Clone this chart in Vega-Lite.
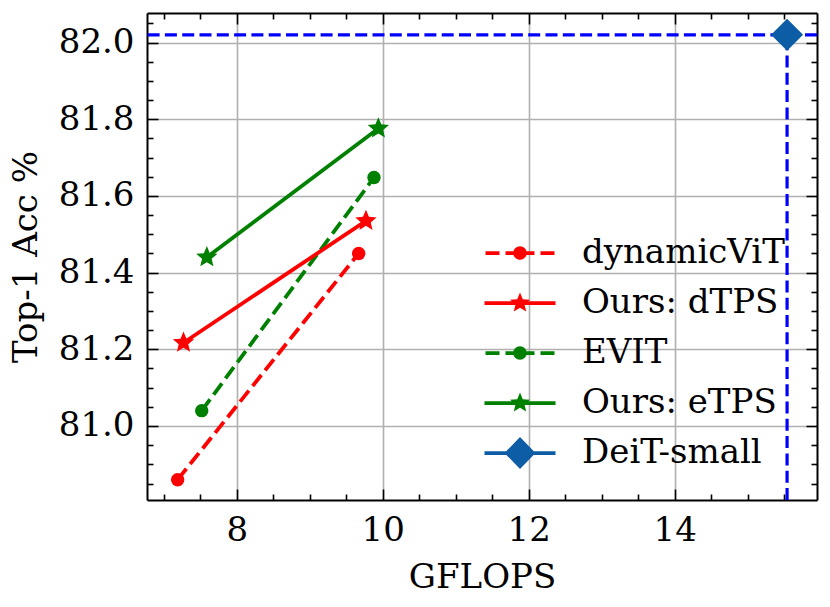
{
  "$schema": "https://vega.github.io/schema/vega-lite/v6.json",
  "width": 670,
  "height": 487,
  "autosize": {"type": "none"},
  "padding": {"left": 147, "top": 13, "right": 13, "bottom": 107},
  "background": "white",
  "config": {
    "font": "DejaVu Serif",
    "view": {"stroke": null},
    "axis": {
      "labelFont": "DejaVu Serif",
      "titleFont": "DejaVu Serif",
      "labelFontSize": 34,
      "titleFontSize": 34,
      "labelColor": "black",
      "titleColor": "black",
      "titleFontWeight": "normal",
      "domainColor": "black",
      "domainWidth": 2,
      "tickColor": "black",
      "tickWidth": 1.6,
      "gridColor": "#b0b0b0",
      "gridWidth": 1.6,
      "gridOpacity": 1
    }
  },
  "datasets": {
    "main": [
      {"series": "dynamicViT", "gflops": 7.19, "acc": 80.86},
      {"series": "dynamicViT", "gflops": 9.67, "acc": 81.45},
      {"series": "Ours: dTPS", "gflops": 7.27, "acc": 81.217},
      {"series": "Ours: dTPS", "gflops": 9.77, "acc": 81.535},
      {"series": "EVIT", "gflops": 7.52, "acc": 81.04},
      {"series": "EVIT", "gflops": 9.88, "acc": 81.648},
      {"series": "Ours: eTPS", "gflops": 7.59, "acc": 81.44},
      {"series": "Ours: eTPS", "gflops": 9.94, "acc": 81.776},
      {"series": "DeiT-small", "gflops": 15.54, "acc": 82.02}
    ],
    "refs": [
      {"gflops": 15.54, "acc": 82.02, "acc_low": 80.807}
    ],
    "entries": [
      {"series": "dynamicViT"},
      {"series": "Ours: dTPS"},
      {"series": "EVIT"},
      {"series": "Ours: eTPS"},
      {"series": "DeiT-small"}
    ]
  },
  "layer": [
    {
      "data": {"name": "refs"},
      "mark": {"type": "rule", "color": "#0000ff", "strokeWidth": 3.2, "strokeDash": [12, 5.3]},
      "encoding": {
        "y": {"field": "acc", "type": "quantitative", "scale": {"domain": [80.807, 82.077], "nice": false, "zero": false}, "axis": null}
      }
    },
    {
      "data": {"name": "refs"},
      "mark": {"type": "rule", "color": "#0000ff", "strokeWidth": 3.2, "strokeDash": [12, 5.3]},
      "encoding": {
        "x": {"field": "gflops", "type": "quantitative", "scale": {"domain": [6.77, 15.95], "nice": false, "zero": false},
          "axis": {"orient": "bottom", "values": [8, 10, 12, 14], "format": "d", "title": "GFLOPS", "grid": true, "ticks": false, "tickSize": 0, "labelPadding": 13, "titlePadding": 13, "domain": true}},
        "y": {"field": "acc_low", "type": "quantitative", "scale": {"domain": [80.807, 82.077], "nice": false, "zero": false},
          "axis": {"orient": "left", "values": [81.0, 81.2, 81.4, 81.6, 81.8, 82.0], "format": ".1f", "title": "Top-1 Acc %", "grid": true, "ticks": false, "tickSize": 0, "labelPadding": 13, "titlePadding": 15, "domain": true}},
        "y2": {"field": "acc"}
      }
    },
    {
      "data": {"name": "main"},
      "transform": [{"filter": "datum.series === 'dynamicViT' || datum.series === 'EVIT'"}],
      "mark": {"type": "line", "strokeWidth": 3.8, "strokeDash": [14, 6]},
      "encoding": {
        "x": {"field": "gflops", "type": "quantitative", "scale": {"domain": [6.77, 15.95], "nice": false, "zero": false},
          "axis": {"orient": "bottom", "values": [8, 10, 12, 14], "labels": false, "grid": false, "domain": false, "title": null, "tickSize": -11}},
        "y": {"field": "acc", "type": "quantitative", "scale": {"domain": [80.807, 82.077], "nice": false, "zero": false},
          "axis": {"orient": "left", "values": [81.0, 81.2, 81.4, 81.6, 81.8, 82.0], "labels": false, "grid": false, "domain": false, "title": null, "tickSize": -11}},
        "color": {"field": "series", "type": "nominal",
          "scale": {"domain": ["dynamicViT", "Ours: dTPS", "EVIT", "Ours: eTPS", "DeiT-small"], "range": ["#ff0000", "#ff0000", "#008000", "#008000", "#0C5DA5"]},
          "legend": null}
      }
    },
    {
      "data": {"name": "main"},
      "transform": [{"filter": "datum.series === 'Ours: dTPS' || datum.series === 'Ours: eTPS'"}],
      "mark": {"type": "line", "strokeWidth": 3.8},
      "encoding": {
        "x": {"field": "gflops", "type": "quantitative", "scale": {"domain": [6.77, 15.95], "nice": false, "zero": false},
          "axis": {"orient": "bottom", "values": [7, 7.5, 8.5, 9, 9.5, 10.5, 11, 11.5, 12.5, 13, 13.5, 14.5, 15, 15.5], "labels": false, "grid": false, "domain": false, "title": null, "tickSize": -6}},
        "y": {"field": "acc", "type": "quantitative", "scale": {"domain": [80.807, 82.077], "nice": false, "zero": false},
          "axis": {"orient": "left", "values": [80.85, 80.9, 80.95, 81.05, 81.1, 81.15, 81.25, 81.3, 81.35, 81.45, 81.5, 81.55, 81.65, 81.7, 81.75, 81.85, 81.9, 81.95, 82.05], "labels": false, "grid": false, "domain": false, "title": null, "tickSize": -6}},
        "color": {"field": "series", "type": "nominal",
          "scale": {"domain": ["dynamicViT", "Ours: dTPS", "EVIT", "Ours: eTPS", "DeiT-small"], "range": ["#ff0000", "#ff0000", "#008000", "#008000", "#0C5DA5"]},
          "legend": null}
      }
    },
    {
      "data": {"name": "main"},
      "transform": [{"filter": "datum.series === 'dynamicViT' || datum.series === 'EVIT'"}],
      "mark": {"type": "point", "shape": "circle", "filled": true, "size": 180, "opacity": 1, "strokeWidth": 0},
      "encoding": {
        "x": {"field": "gflops", "type": "quantitative", "scale": {"domain": [6.77, 15.95], "nice": false, "zero": false},
          "axis": {"orient": "top", "values": [8, 10, 12, 14], "labels": false, "grid": false, "domain": true, "title": null, "tickSize": -11}},
        "y": {"field": "acc", "type": "quantitative", "scale": {"domain": [80.807, 82.077], "nice": false, "zero": false},
          "axis": {"orient": "right", "values": [81.0, 81.2, 81.4, 81.6, 81.8, 82.0], "labels": false, "grid": false, "domain": true, "title": null, "tickSize": -11}},
        "color": {"field": "series", "type": "nominal",
          "scale": {"domain": ["dynamicViT", "Ours: dTPS", "EVIT", "Ours: eTPS", "DeiT-small"], "range": ["#ff0000", "#ff0000", "#008000", "#008000", "#0C5DA5"]},
          "legend": null}
      }
    },
    {
      "data": {"name": "main"},
      "transform": [{"filter": "datum.series === 'Ours: dTPS' || datum.series === 'Ours: eTPS'"}],
      "mark": {"type": "point", "shape": "M0,-1L0.2645,-0.3641L0.9511,-0.309L0.428,0.1391L0.5878,0.809L0,0.45L-0.5878,0.809L-0.428,0.1391L-0.9511,-0.309L-0.2645,-0.3641Z", "filled": true, "size": 500, "opacity": 1, "strokeWidth": 0},
      "encoding": {
        "x": {"field": "gflops", "type": "quantitative", "scale": {"domain": [6.77, 15.95], "nice": false, "zero": false},
          "axis": {"orient": "top", "values": [7, 7.5, 8.5, 9, 9.5, 10.5, 11, 11.5, 12.5, 13, 13.5, 14.5, 15, 15.5], "labels": false, "grid": false, "domain": false, "title": null, "tickSize": -6}},
        "y": {"field": "acc", "type": "quantitative", "scale": {"domain": [80.807, 82.077], "nice": false, "zero": false},
          "axis": {"orient": "right", "values": [80.85, 80.9, 80.95, 81.05, 81.1, 81.15, 81.25, 81.3, 81.35, 81.45, 81.5, 81.55, 81.65, 81.7, 81.75, 81.85, 81.9, 81.95, 82.05], "labels": false, "grid": false, "domain": false, "title": null, "tickSize": -6}},
        "color": {"field": "series", "type": "nominal",
          "scale": {"domain": ["dynamicViT", "Ours: dTPS", "EVIT", "Ours: eTPS", "DeiT-small"], "range": ["#ff0000", "#ff0000", "#008000", "#008000", "#0C5DA5"]},
          "legend": null}
      }
    },
    {
      "data": {"name": "main"},
      "transform": [{"filter": "datum.series === 'DeiT-small'"}],
      "mark": {"type": "point", "shape": "diamond", "filled": true, "size": 1024, "opacity": 1, "strokeWidth": 0},
      "encoding": {
        "x": {"field": "gflops", "type": "quantitative", "scale": {"domain": [6.77, 15.95], "nice": false, "zero": false}, "axis": null},
        "y": {"field": "acc", "type": "quantitative", "scale": {"domain": [80.807, 82.077], "nice": false, "zero": false}, "axis": null},
        "color": {"field": "series", "type": "nominal",
          "scale": {"domain": ["dynamicViT", "Ours: dTPS", "EVIT", "Ours: eTPS", "DeiT-small"], "range": ["#ff0000", "#ff0000", "#008000", "#008000", "#0C5DA5"]},
          "legend": null}
      }
    },
    {
      "data": {"name": "entries"},
      "mark": {"type": "point", "filled": true, "opacity": 0},
      "encoding": {
        "fill": {"field": "series", "type": "nominal", "sort": null,
          "scale": {"range": ["#ff0000", "#ff0000", "#008000", "#008000", "#0C5DA5"]},
          "legend": {
            "title": null, "orient": "none", "legendX": 348, "legendY": 215, "padding": 0, "rowPadding": 8, "gridAlign": "all",
            "labelFont": "DejaVu Serif", "labelFontSize": 34, "labelColor": "black", "labelOffset": 37, "labelLimit": 400, "symbolSize": 2500,
            "encode": {"symbols": {"update": {"opacity": {"value": 1}, "strokeWidth": {"value": 0}}}}
          }
        },
        "shape": {"field": "series", "type": "nominal", "sort": null,
          "scale": {
            "range": [
              "M-1.38,-0.075H-0.82V0.075H-1.38Z M-0.58,-0.075H-0.1V0.075H-0.58Z M0.1,-0.075H0.58V0.075H0.1Z M0.82,-0.075H1.38V0.075H0.82Z M0.27,0A0.27,0.27,0,1,1,-0.27,0A0.27,0.27,0,1,1,0.27,0Z",
              "M-1.42,-0.075H1.42V0.075H-1.42Z M0,-0.42L0.111,-0.153L0.3994,-0.1298L0.1798,0.0584L0.2469,0.3398L0,0.189L-0.2469,0.3398L-0.1798,0.0584L-0.3994,-0.1298L-0.111,-0.153Z",
              "M-1.38,-0.075H-0.82V0.075H-1.38Z M-0.58,-0.075H-0.1V0.075H-0.58Z M0.1,-0.075H0.58V0.075H0.1Z M0.82,-0.075H1.38V0.075H0.82Z M0.27,0A0.27,0.27,0,1,1,-0.27,0A0.27,0.27,0,1,1,0.27,0Z",
              "M-1.42,-0.075H1.42V0.075H-1.42Z M0,-0.42L0.111,-0.153L0.3994,-0.1298L0.1798,0.0584L0.2469,0.3398L0,0.189L-0.2469,0.3398L-0.1798,0.0584L-0.3994,-0.1298L-0.111,-0.153Z",
              "M-1.42,-0.075H1.42V0.075H-1.42Z M0,-0.64L0.62,0L0,0.64L-0.62,0Z"
            ]},
          "legend": {
            "title": null, "orient": "none", "legendX": 348, "legendY": 215, "padding": 0, "rowPadding": 8, "gridAlign": "all",
            "labelFont": "DejaVu Serif", "labelFontSize": 34, "labelColor": "black", "labelOffset": 37, "labelLimit": 400, "symbolSize": 2500,
            "encode": {"symbols": {"update": {"opacity": {"value": 1}, "strokeWidth": {"value": 0}}}}
          }
        }
      }
    }
  ],
  "resolve": {"axis": {"x": "independent", "y": "independent"}}
}
